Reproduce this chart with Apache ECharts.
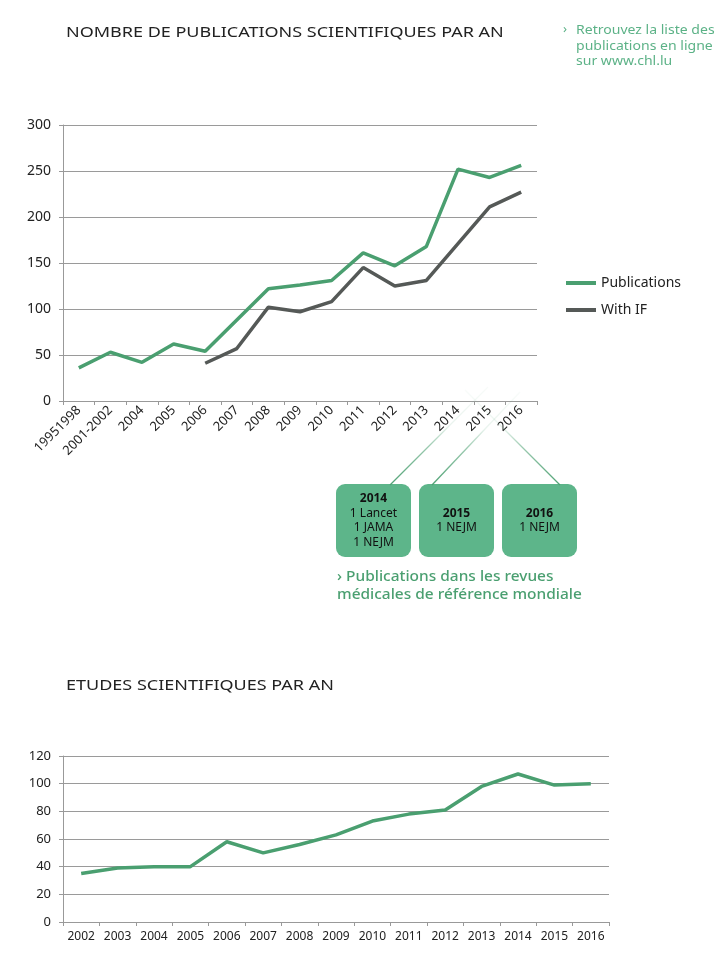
<!DOCTYPE html>
<html>
<head>
<meta charset="utf-8">
<script src="https://cdn.jsdelivr.net/npm/echarts@6/dist/echarts.min.js"></script>
<style>
html,body{margin:0;padding:0;background:#fff;}
#c{width:720px;height:969px;}
</style>
</head>
<body>
<div id="c"></div>
<script>
// ---- Data ----
var pubCategories = ['19951998','2001-2002','2004','2005','2006','2007','2008','2009','2010','2011','2012','2013','2014','2015','2016'];
var publications = [36, 53, 42, 62, 54, 88, 122, 126, 131, 161, 147, 168, 252, 243, 256];
var withIF = [null, null, null, null, 41, 57, 102, 97, 108, 145, 125, 131, 171, 211, 227];
var pubTicks = [0, 50, 100, 150, 200, 250, 300];

var studyCategories = ['2002','2003','2004','2005','2006','2007','2008','2009','2010','2011','2012','2013','2014','2015','2016'];
var studies = [35, 39, 40, 40, 58, 50, 56, 63, 73, 78, 81, 98, 107, 99, 100];
var studyTicks = [0, 20, 40, 60, 80, 100, 120];

var boxes = [
  {year: '2014', lines: ['1 Lancet', '1 JAMA', '1 NEJM']},
  {year: '2015', lines: ['1 NEJM']},
  {year: '2016', lines: ['1 NEJM']}
];

var GREEN = '#4a9f70';
var GRAY = '#555957';
var BOX = '#5db58a';
var FONT = 'Noto Sans';

var chart = echarts.init(document.getElementById('c'), null, {renderer: 'canvas'});

function boxGraphic(b, left) {
  var children = [{
    type: 'rect', shape: {x: 0, y: 0, width: 75, height: 73, r: 9},
    style: {fill: BOX}
  }];
  var n = b.lines.length + 1;
  var lh = 14.7;
  var startY = 36.5 - (n - 1) * lh / 2;
  children.push({type: 'text', style: {text: b.year, x: 37.5, y: startY, align: 'center', verticalAlign: 'middle', fontFamily: FONT, fontSize: 12, fontWeight: 'bold', fill: '#111'}});
  b.lines.forEach(function (t, i) {
    children.push({type: 'text', style: {text: t, x: 37.5, y: startY + (i + 1) * lh, align: 'center', verticalAlign: 'middle', fontFamily: FONT, fontSize: 12, fill: '#111'}});
  });
  return {type: 'group', left: left, top: 484, children: children};
}

function connector(x1, y1, x2, y2) {
  return {
    type: 'line', shape: {x1: x1, y1: y1, x2: x2, y2: y2},
    style: {
      lineWidth: 1.3,
      stroke: new echarts.graphic.LinearGradient(0, 1, 0, 0, [
        {offset: 0, color: 'rgba(74,159,112,1)'},
        {offset: 0.4, color: 'rgba(74,159,112,0.55)'},
        {offset: 0.6, color: 'rgba(74,159,112,0.12)'},
        {offset: 1, color: 'rgba(74,159,112,0.03)'}
      ])
    },
    z: 10
  };
}

var axisLabelStyle = {color: '#222', fontFamily: FONT};

var option = {
  backgroundColor: '#fff',
  animation: false,
  textStyle: {fontFamily: FONT},
  grid: [
    {left: 63, top: 125, width: 474, height: 276, containLabel: false},
    {left: 63, top: 756, width: 546, height: 166, containLabel: false}
  ],
  legend: {
    orient: 'vertical', left: 561, top: 271, itemGap: 13,
    itemWidth: 30, itemHeight: 4, icon: 'rect',
    textStyle: {fontFamily: FONT, fontSize: 14, color: '#222'},
    data: ['Publications', 'With IF']
  },
  xAxis: [
    {
      gridIndex: 0, type: 'category', data: pubCategories, boundaryGap: true,
      axisLine: {lineStyle: {color: '#999', width: 1}},
      axisTick: {show: true, length: 4, lineStyle: {color: '#999'}},
      axisLabel: Object.assign({rotate: 45, fontSize: 13, margin: 7, interval: 0}, axisLabelStyle)
    },
    {
      gridIndex: 1, type: 'category', data: studyCategories, boundaryGap: true,
      axisLine: {lineStyle: {color: '#999', width: 1}},
      axisTick: {show: true, length: 4, lineStyle: {color: '#999'}},
      axisLabel: Object.assign({fontSize: 12, margin: 9, interval: 0}, axisLabelStyle)
    }
  ],
  yAxis: [
    {
      gridIndex: 0, type: 'value', min: pubTicks[0], max: pubTicks[pubTicks.length - 1], interval: 50,
      axisLine: {show: true, lineStyle: {color: '#999'}},
      axisTick: {show: true, length: 4, lineStyle: {color: '#999'}},
      splitLine: {lineStyle: {color: '#9a9a9a', width: 1}},
      axisLabel: Object.assign({fontSize: 14, margin: 12}, axisLabelStyle)
    },
    {
      gridIndex: 1, type: 'value', min: studyTicks[0], max: studyTicks[studyTicks.length - 1], interval: 20,
      axisLine: {show: true, lineStyle: {color: '#999'}},
      axisTick: {show: true, length: 4, lineStyle: {color: '#999'}},
      splitLine: {lineStyle: {color: '#9a9a9a', width: 1}},
      axisLabel: Object.assign({fontSize: 13, margin: 12}, axisLabelStyle)
    }
  ],
  series: [
    {
      name: 'Publications', type: 'line', xAxisIndex: 0, yAxisIndex: 0, data: publications,
      symbol: 'none', lineStyle: {color: GREEN, width: 3.5}, itemStyle: {color: GREEN}, z: 3
    },
    {
      name: 'With IF', type: 'line', xAxisIndex: 0, yAxisIndex: 0, data: withIF,
      symbol: 'none', lineStyle: {color: GRAY, width: 3.5}, itemStyle: {color: GRAY}, z: 2
    },
    {
      name: 'Etudes', type: 'line', xAxisIndex: 1, yAxisIndex: 1, data: studies,
      symbol: 'none', lineStyle: {color: GREEN, width: 3.5}, itemStyle: {color: GREEN}
    }
  ],
  graphic: [
    {type: 'text', x: 66, y: 25, scaleX: 1.2, style: {text: 'NOMBRE DE PUBLICATIONS SCIENTIFIQUES PAR AN', fontFamily: FONT, fontSize: 15, fill: '#222'}},
    {type: 'text', x: 563, y: 23, style: {text: '›', fontFamily: FONT, fontSize: 13, fill: '#5cb287'}},
    {type: 'text', x: 576, y: 23, scaleX: 1.08, style: {text: 'Retrouvez la liste des\npublications en ligne\nsur www.chl.lu', fontFamily: FONT, fontSize: 13, lineHeight: 15.5, fill: '#5cb287'}},
    {type: 'text', x: 66, y: 678, scaleX: 1.2, style: {text: 'ETUDES SCIENTIFIQUES PAR AN', fontFamily: FONT, fontSize: 15, fill: '#222'}},
    connector(390, 485, 488, 387),
    connector(432, 485, 520, 392),
    connector(560, 485, 465, 390),
    boxGraphic(boxes[0], 336),
    boxGraphic(boxes[1], 419),
    boxGraphic(boxes[2], 502),
    {type: 'text', x: 337, y: 568, scaleX: 1.03, style: {text: '› Publications dans les revues\nmédicales de référence mondiale', fontFamily: FONT, fontSize: 15, fontWeight: 500, lineHeight: 18, fill: GREEN}}
  ]
};
chart.setOption(option);
</script>
</body>
</html>
